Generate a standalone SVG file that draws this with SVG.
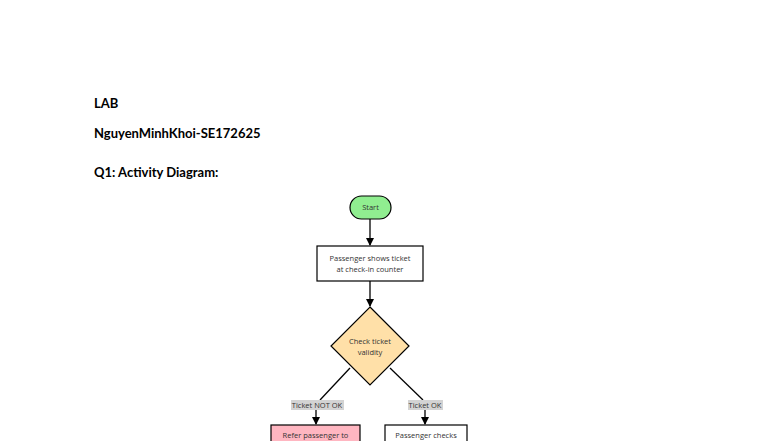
<svg xmlns="http://www.w3.org/2000/svg" width="784" height="441" viewBox="0 0 784 441">
<defs>
<marker id="ah" markerWidth="8" markerHeight="8" refX="7" refY="4" orient="auto" markerUnits="userSpaceOnUse"><path d="M0,0 L8,4 L0,8 z" fill="#000"/></marker>
<style>
.h{font-family:Lato,"Liberation Sans",sans-serif;font-weight:bold;font-size:13px;fill:#000}
.t{font-family:"Open Sans","Liberation Sans",sans-serif;font-size:7.5px;fill:#333;text-anchor:middle}
.l{stroke:#000;stroke-width:1.3;fill:none}
.lb{fill:#d3d3d3}
</style>
</defs>
<rect width="784" height="441" fill="#fff"/>
<text class="h" x="94" y="108">LAB</text>
<text class="h" x="94" y="138">NguyenMinhKhoi-SE172625</text>
<text class="h" x="94" y="177">Q1: Activity Diagram:</text>
<g id="connectors">
<line class="l" x1="370" y1="219" x2="370" y2="245" marker-end="url(#ah)"/>
<line class="l" x1="370" y1="281" x2="370" y2="306" marker-end="url(#ah)"/>
<line class="l" x1="350" y1="368" x2="320" y2="400"/>
<line class="l" x1="390" y1="368" x2="423" y2="400"/>
<rect class="lb" x="291" y="400" width="53" height="10"/>
<text class="t" x="317" y="408">Ticket NOT OK</text>
<rect class="lb" x="408" y="400" width="35" height="10"/>
<text class="t" x="425" y="408">Ticket OK</text>
<line class="l" x1="316" y1="410" x2="316" y2="424" marker-end="url(#ah)"/>
<line class="l" x1="425" y1="410" x2="425" y2="424" marker-end="url(#ah)"/>
</g>
<g id="start"><rect x="350" y="196" width="41" height="23" rx="11.5" fill="#90ee90" stroke="#000" stroke-width="1.2"/><text class="t" x="370.5" y="210">Start</text></g>
<g id="show"><rect x="317" y="246" width="106" height="35" fill="#fff" stroke="#000" stroke-width="1.2"/><text class="t" x="370" y="261">Passenger shows ticket</text><text class="t" x="370" y="272">at check-in counter</text></g>
<g id="check"><polygon points="370,307 409,346 370,385 331,346" fill="#ffe0a8" stroke="#000" stroke-width="1.2"/><text class="t" x="370" y="344">Check ticket</text><text class="t" x="370" y="355">validity</text></g>
<g id="refer"><rect x="271" y="425" width="89" height="30" fill="#ffb6c1" stroke="#000" stroke-width="1.2"/><text class="t" x="315.5" y="438">Refer passenger to</text></g>
<g id="checks"><rect x="385" y="425" width="82" height="30" fill="#fff" stroke="#000" stroke-width="1.2"/><text class="t" x="426" y="438">Passenger checks</text></g>
</svg>
